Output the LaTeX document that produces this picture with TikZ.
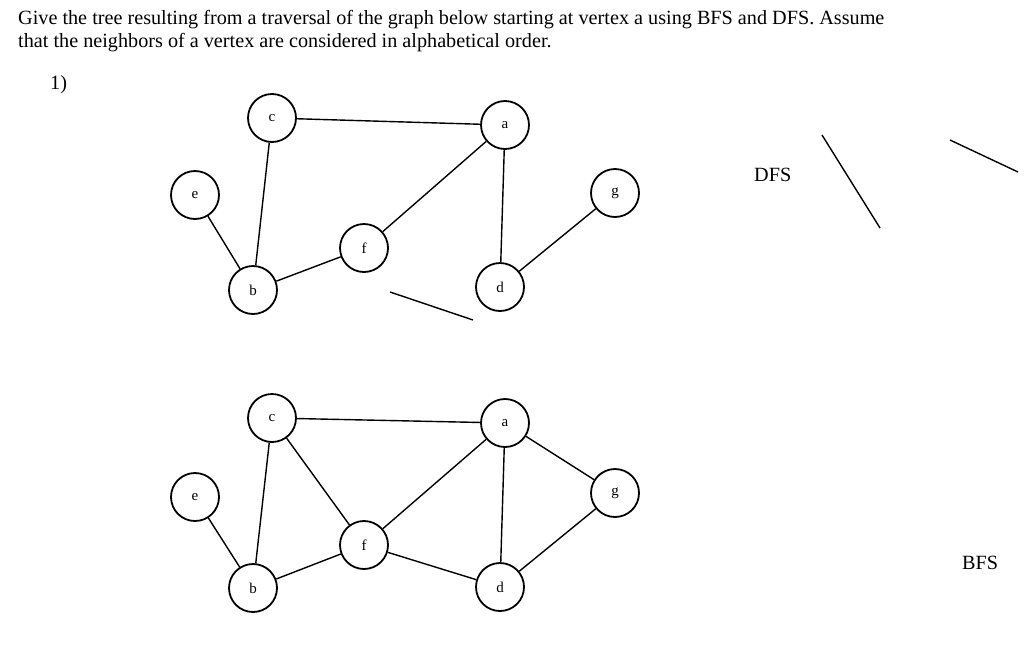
\documentclass[tikz,border=0pt]{standalone}
\usepackage{fontspec}
\setmainfont{Liberation Serif}
\begin{document}
\begin{tikzpicture}[x=1pt,y=-1pt,
  v/.style={circle,draw,line width=1.8pt,minimum size=48pt,inner sep=0pt,font=\fontsize{15}{17}\selectfont},
  e/.style={line width=1.4pt},
  txt/.style={anchor=west,inner sep=0pt,font=\fontsize{20.2}{23}\selectfont}]
\useasboundingbox (0,0) rectangle (1024,659);
\node[txt] (t1) at (18,20) {Give the tree resulting from a traversal of the graph below starting at vertex a using BFS and DFS. Assume};
\node[txt] (t2) at (18,43) {that the neighbors of a vertex are considered in alphabetical order.};
\node[txt] (n1) at (50,85) {1)};
% top
\node[v] (c) at (272,118) {c};
\node[v] (a) at (505,125) {a};
\node[v] (e) at (195,195) {e};
\node[v] (g) at (615,193) {g};
\node[v] (f) at (364,248) {f};
\node[v] (b) at (253,290) {b};
\node[v] (d) at (500,287) {d};
\draw[e] (c)--(a) (c)--(b) (e)--(b) (b)--(f) (f)--(a) (a)--(d) (d)--(g);
\coordinate (s1) at (390,292); \coordinate (s2) at (473,320);
\draw[e] (s1)--(s2);
\node[txt] (dfs) at (754,175) {DFS};
\coordinate (l1) at (822,135); \coordinate (l2) at (880,228);
\coordinate (l3) at (950,140); \coordinate (l4) at (1018,172);
\draw[e] (l1)--(l2) (l3)--(l4);
% bottom
\node[v] (c2) at (272,418) {c};
\node[v] (a2) at (505,423) {a};
\node[v] (e2) at (195,497) {e};
\node[v] (g2) at (615,493) {g};
\node[v] (f2) at (364,545) {f};
\node[v] (b2) at (253,588) {b};
\node[v] (d2) at (500,587) {d};
\draw[e] (c2)--(a2) (c2)--(b2) (c2)--(f2) (e2)--(b2) (b2)--(f2) (f2)--(a2) (f2)--(d2) (a2)--(d2) (a2)--(g2) (d2)--(g2);
\node[txt] (bfs) at (962,563) {BFS};
\end{tikzpicture}
\end{document}
